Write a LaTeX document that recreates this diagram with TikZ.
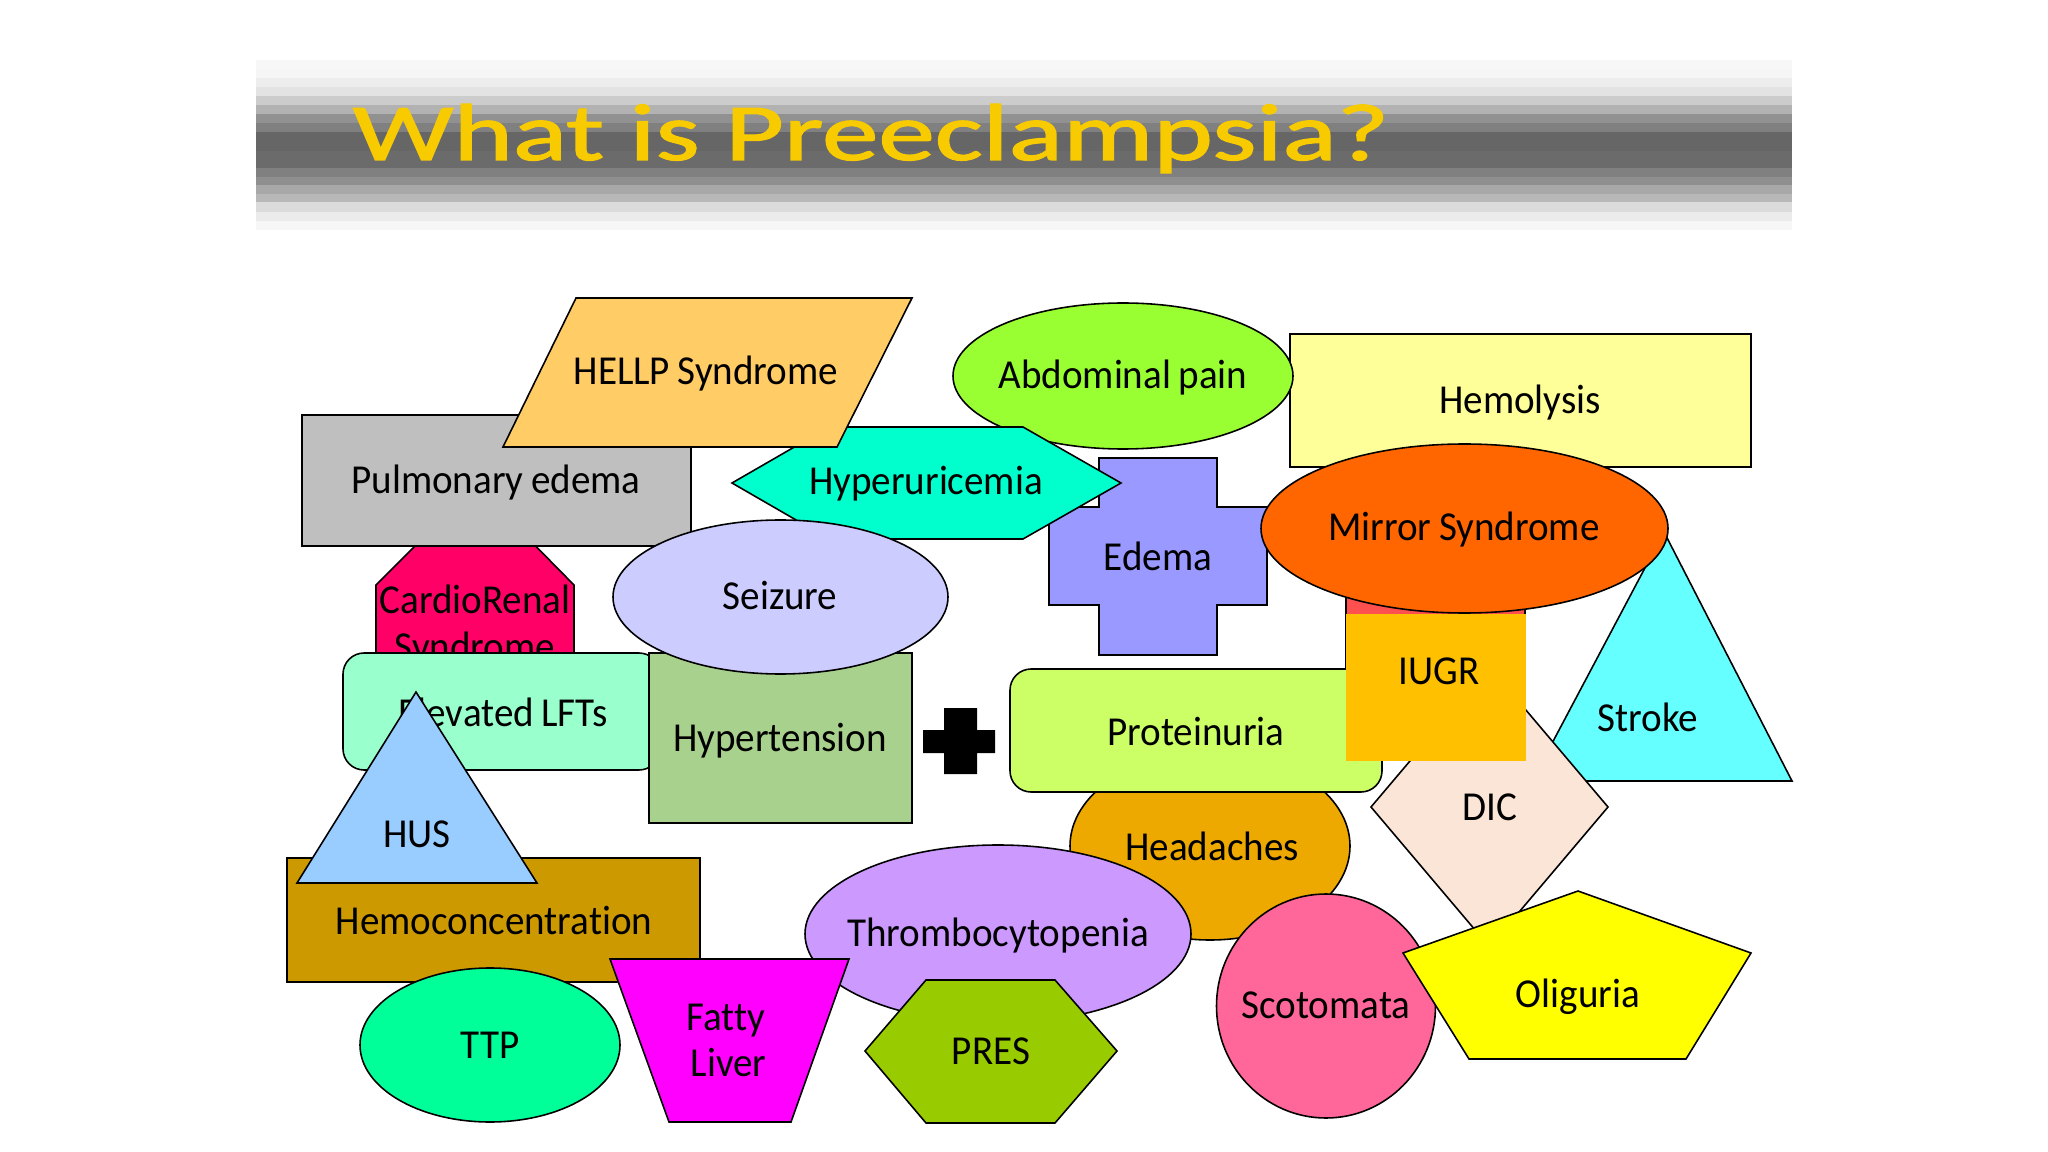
\documentclass[tikz,border=0pt]{standalone}
\usepackage{fontspec}
\usepackage{graphicx}
\setmainfont[FakeStretch=0.95,WordSpace=0.85,Ligatures=NoCommon]{Carlito}
\newfontfamily\titlefont[FakeBold=1.4,Ligatures=NoCommon]{Carlito}
\definecolor{hemolysisCol}{HTML}{FFFF99}
\definecolor{abdomCol}{HTML}{99FF33}
\definecolor{cardioCol}{HTML}{FF0066}
\definecolor{pulmCol}{HTML}{BFBFBF}
\definecolor{hellpCol}{HTML}{FFCC66}
\definecolor{edemaCol}{HTML}{9999FF}
\definecolor{uricCol}{HTML}{00FFCC}
\definecolor{lftsCol}{HTML}{99FFCC}
\definecolor{hyperCol}{HTML}{A9D18E}
\definecolor{seizureCol}{HTML}{CCCCFF}
\definecolor{hemocCol}{HTML}{CC9900}
\definecolor{husCol}{HTML}{99CCFF}
\definecolor{ttpCol}{HTML}{00FF99}
\definecolor{strokeCol}{HTML}{66FFFF}
\definecolor{dicCol}{HTML}{FBE5D6}
\definecolor{headCol}{HTML}{EDA900}
\definecolor{proteinCol}{HTML}{CCFF66}
\definecolor{redCol}{HTML}{FF5050}
\definecolor{iugrCol}{HTML}{FFC000}
\definecolor{mirrorCol}{HTML}{FF6600}
\definecolor{thromboCol}{HTML}{CC99FF}
\definecolor{fattyCol}{HTML}{FF00FF}
\definecolor{presCol}{HTML}{99CC00}
\definecolor{scotCol}{HTML}{FF6699}
\definecolor{oligCol}{HTML}{FFFF00}
\definecolor{titleCol}{HTML}{F7CB00}
\tikzset{
  outl/.style={draw=black,line width=0.45pt,line join=miter},
  lab/.style={font=\fontsize{11.7pt}{13.1pt}\selectfont,text=black,inner sep=0pt,align=center}
}
\begin{document}
\begin{tikzpicture}[x=0.01cm,y=-0.01cm]
\useasboundingbox (0,0) rectangle (2048,1152);
\fill[white] (0,0) rectangle (2048,1152);
% title band
\foreach \ya/\yb/\lev in {60/70/3,70/78/4,78/87/7,87/96/11,96/105/20,105/114/30,114/123/43,123/132/50,132/151/60,151/168/58,168/177/50,177/185/44,185/194/34,194/202/28,202/212/14,212/221/8,221/230/3}
  \fill[black!\lev] (256,\ya) rectangle (1792,\yb);
\node[anchor=base west,inner sep=0pt,text=titleCol,font=\fontsize{23pt}{23pt}\selectfont\titlefont] (title) at (352,160) {\scalebox{1.40}[1]{What is Preeclampsia?}};
% top row
\draw[outl,fill=hemolysisCol] (1290,334) rectangle (1751,467);
\node[lab] (hemolysis) at (1520,403) {Hemolysis};
\draw[outl,fill=abdomCol] (1123,376) ellipse [x radius=170,y radius=73];
\node[lab] (abdominal) at (1123,378) {Abdominal pain};
% octagon sits behind the grey box
\draw[outl,fill=cardioCol] (441,520) -- (510,520) -- (574,585) -- (574,720) -- (376,720) -- (376,585) -- cycle;
\node[lab,text width=200] (cardio) at (475,626) {CardioRenal\\Syndrome};
\draw[outl,fill=pulmCol] (302,415) rectangle (691,546);
\node[lab] (pulmonary) at (496,483) {Pulmonary edema};
% cross behind the hexagon
\draw[outl,fill=edemaCol] (1099,458) -- (1217,458) -- (1217,507) -- (1267,507) -- (1267,605) -- (1217,605) -- (1217,655) -- (1099,655) -- (1099,605) -- (1049,605) -- (1049,507) -- (1099,507) -- cycle;
\node[lab] (edema) at (1158,556) {Edema};
\draw[outl,fill=uricCol] (732,483) -- (829,427) -- (1023,427) -- (1121,483) -- (1023,539) -- (829,539) -- cycle;
\node[lab] (uric) at (926,484) {Hyperuricemia};
\coordinate (hA) at (576,298);
\coordinate (hB) at (912,298);
\coordinate (hC) at (837,447);
\coordinate (hD) at (503,447);
\draw[outl,fill=hellpCol] (hA) -- (hB) -- (hC) -- (hD) -- cycle;
\node[lab] (hellp) at (706,374) {HELLP Syndrome};
% left column
\draw[outl,fill=lftsCol,rounded corners=6pt] (343,653) rectangle (660,770);
\node[lab] (lfts) at (503,712) {Elevated LFTs};
\draw[outl,fill=hyperCol] (649,653) rectangle (912,823);
\node[lab] (hyper) at (780,741) {Hypertension};
\draw[outl,fill=seizureCol] (780.5,597) ellipse [x radius=167.5,y radius=77];
\node[lab] (seizure) at (780,595) {Seizure};
\draw[outl,fill=hemocCol] (287,858) rectangle (700,982);
\node[lab] (hemoc) at (494,920) {Hemoconcentration};
\draw[outl,fill=husCol] (416,692) -- (537,883) -- (297,883) -- cycle;
\node[lab] (hus) at (417,834) {HUS};
\draw[outl,fill=ttpCol] (490,1045) ellipse [x radius=130,y radius=77];
\node[lab] (ttp) at (490,1045) {TTP};
% black plus
\fill[black] (944,708) -- (977,708) -- (977,730) -- (995,730) -- (995,753) -- (977,753) -- (977,774) -- (944,774) -- (944,753) -- (923,753) -- (923,730) -- (944,730) -- cycle;
% right side
\draw[outl,fill=strokeCol] (1664,532) -- (1792,781) -- (1532,781) -- cycle;
\node[lab] (stroke) at (1648,717) {Stroke};
\draw[outl,fill=dicCol] (1489.5,667) -- (1608,807) -- (1489.5,947) -- (1371,807) -- cycle;
\node[lab] (dic) at (1490,807) {DIC};
\draw[outl,fill=headCol] (1210,846) ellipse [x radius=140,y radius=94];
\node[lab] (headaches) at (1212,846) {Headaches};
\draw[outl,fill=proteinCol,rounded corners=6pt] (1010,669) rectangle (1382,792);
\node[lab] (protein) at (1196,731) {Proteinuria};
\draw[outl,fill=redCol] (1346,590) rectangle (1525,669);
\fill[iugrCol] (1346,614) rectangle (1526,761);
\node[lab] (iugr) at (1439,671) {IUGR};
\draw[outl,fill=mirrorCol] (1464.5,528.5) ellipse [x radius=203.5,y radius=84.5];
\node[lab] (mirror) at (1464,530) {Mirror Syndrome};
% bottom row
\draw[outl,fill=thromboCol] (998,934) ellipse [x radius=193,y radius=89];
\node[lab] (thrombo) at (998,936) {Thrombocytopenia};
\draw[outl,fill=fattyCol] (610,959) -- (849,959) -- (791,1122) -- (669,1122) -- cycle;
\node[lab] (fatty) at (726,1040) {Fatty\\\hspace{1.5pt}Liver};
\draw[outl,fill=presCol] (865,1051) -- (926,980) -- (1055,980) -- (1117,1051) -- (1055,1123) -- (926,1123) -- cycle;
\node[lab] (pres) at (991,1051) {PRES};
\draw[outl,fill=scotCol] (1326,1006) ellipse [x radius=109.5,y radius=112];
\node[lab] (scotomata) at (1326,1005) {Scotomata};
\draw[outl,fill=oligCol] (1578,891) -- (1751,953) -- (1686,1059) -- (1469,1059) -- (1403,953) -- cycle;
\node[lab] (oliguria) at (1578,997) {Oliguria};
\end{tikzpicture}
\end{document}
